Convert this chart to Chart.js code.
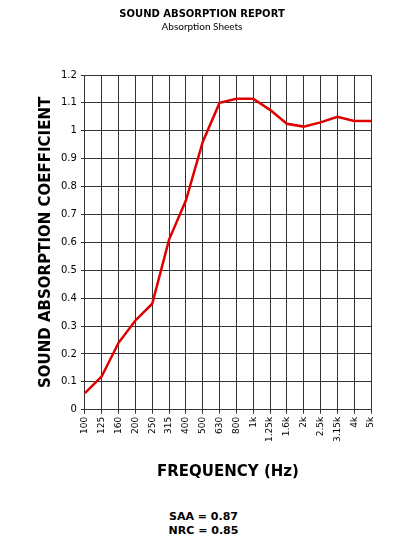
<!DOCTYPE html><html><head><script src="https://cdn.jsdelivr.net/npm/chart.js"></script>
<style>body{margin:0;background:#fff;font-family:Lato,sans-serif}#w{position:relative;width:407px;height:485px}#f{position:absolute;left:0;width:407px;text-align:center;font-weight:bold;font-size:11px;line-height:14px;top:510px;font-family:"DejaVu Sans"}</style></head><body>
<div id="w"><canvas id="c"></canvas></div><div id="f">SAA = 0.87<br>NRC = 0.85</div>
<script>
const categories=["100","125","160","200","250","315","400","500","630","800","1k","1.25k","1.6k","2k","2.5k","3.15k","4k","5k"];
const values=[0.06,0.12,0.24,0.32,0.38,0.61,0.75,0.96,1.10,1.115,1.115,1.075,1.025,1.015,1.03,1.05,1.035,1.035];
const yTicks=[0,0.1,0.2,0.3,0.4,0.5,0.6,0.7,0.8,0.9,1,1.1,1.2];
new Chart(document.getElementById('c'),{type:'line',data:{labels:categories,datasets:[{data:values,borderColor:'#e00000',borderWidth:2.5,pointRadius:0,tension:0}]},
options:{responsive:true,maintainAspectRatio:false,animation:false,layout:{padding:{left:33,right:36,top:0,bottom:0}},
plugins:{legend:{display:false},tooltip:{enabled:false},
title:{display:true,text:'SOUND ABSORPTION REPORT',color:'#000',font:{family:'DejaVu Sans',weight:'bold',size:10},padding:{top:8,bottom:0}},
subtitle:{display:true,text:'Absorption Sheets',color:'#000',font:{family:'Lato',size:10},padding:{top:1,bottom:42}}},
scales:{x:{offset:false,grid:{color:'#333',lineWidth:1,drawTicks:true,tickLength:4},border:{color:'#333'},ticks:{color:'#000',font:{family:'DejaVu Sans',size:9},maxRotation:90,minRotation:90,autoSkip:false},
title:{display:true,text:'FREQUENCY (Hz)',color:'#000',font:{family:'DejaVu Sans',weight:'bold',size:15},padding:{top:18}}},
y:{min:0,max:1.2,afterBuildTicks:a=>{a.ticks=yTicks.map(v=>({value:v}))},grid:{color:'#333',lineWidth:1,tickLength:4},border:{color:'#333'},ticks:{color:'#000',font:{family:'DejaVu Sans',size:10},padding:4,callback:v=>String(Math.round(v*10)/10)},
title:{display:true,text:'SOUND ABSORPTION COEFFICIENT',color:'#000',font:{family:'DejaVu Sans',weight:'bold',size:15},padding:{bottom:2}}}}}});
</script></body></html>
